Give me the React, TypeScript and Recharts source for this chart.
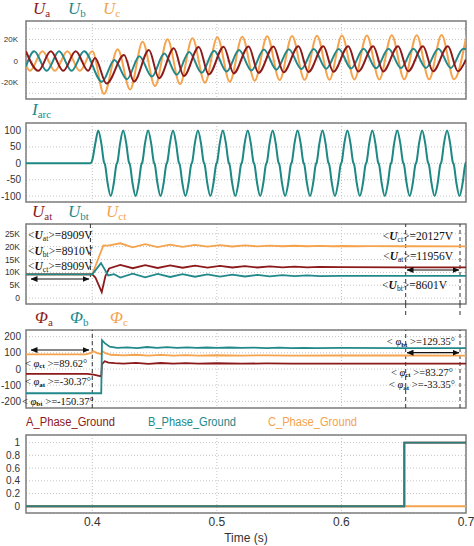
import React from 'react';
import { LineChart, Line, XAxis, YAxis, CartesianGrid, ReferenceArea, ReferenceLine } from 'recharts';

const C_A = '#8C1A1A';
const C_B = '#22898A';
const C_C = '#F5A34C';

const X_MIN = 0.3468;
const X_MAX = 0.7;
const timeTicks = [0.4, 0.5, 0.6, 0.7];

type P = [number, number][];

// Panel 1: phase voltages (extrema)
const uaPts: P = [[0.3468, 9000], [0.3567, -9000], [0.3667, 9000], [0.3767, -9000], [0.3867, 9000], [0.3967, -9000], [0.4022, 2800], [0.4115, -21000], [0.4255, 5600], [0.4335, -19000], [0.4455, 10200], [0.4535, -16000], [0.4655, 11800], [0.4735, -14000], [0.4855, 13000], [0.4935, -12500], [0.5055, 13300], [0.5135, -11500], [0.5255, 13500], [0.5335, -11000], [0.5455, 13600], [0.5535, -10500], [0.5655, 13700], [0.5735, -10200], [0.5855, 13700], [0.5935, -10000], [0.6055, 13700], [0.6135, -9800], [0.6255, 13700], [0.6335, -9700], [0.6455, 13700], [0.6535, -9600], [0.6655, 13700], [0.6735, -9600], [0.6855, 13700], [0.6935, -9600], [0.7, 1500]];
const ubPts: P = [[0.3468, -5000], [0.3534, 9000], [0.3634, -9000], [0.3734, 9000], [0.3834, -9000], [0.3934, 9000], [0.4078, -19200], [0.4178, 900], [0.4278, -17000], [0.4378, 4500], [0.4478, -14500], [0.4578, 7000], [0.4678, -12700], [0.4778, 8500], [0.4878, -11000], [0.4978, 9500], [0.5078, -9800], [0.5178, 10200], [0.5278, -8800], [0.5378, 10600], [0.5478, -8000], [0.5578, 10900], [0.5678, -7500], [0.5778, 11100], [0.5878, -7200], [0.5978, 11200], [0.6078, -7000], [0.6178, 11300], [0.6278, -6800], [0.6378, 11400], [0.6478, -6600], [0.6578, 11400], [0.6678, -6500], [0.6778, 11400], [0.6878, -6500], [0.6978, 11400], [0.7, 11000]];
const ucPts: P = [[0.3468, -4000], [0.35, -9000], [0.36, 9000], [0.37, -9000], [0.38, 9000], [0.39, -9000], [0.4, 9000], [0.4094, -30500], [0.4204, 10900], [0.4304, -26400], [0.4404, 18000], [0.4504, -23300], [0.4604, 20200], [0.4704, -21400], [0.4804, 21100], [0.4904, -20200], [0.5004, 22000], [0.5104, -19200], [0.5204, 22600], [0.5304, -18300], [0.5404, 23000], [0.5504, -17700], [0.5604, 23300], [0.5704, -17500], [0.5804, 23500], [0.5904, -17300], [0.6004, 23700], [0.6104, -17100], [0.6204, 23800], [0.6304, -17100], [0.6404, 24000], [0.6504, -17000], [0.6604, 24000], [0.6704, -17000], [0.6804, 24200], [0.6904, -17000], [0.7004, 24200]];

// Panel 2: arc current
const iarcPts: P = [[0.3468, 0], [0.3985, 0], [0.4, 10], [0.4025, 62],
  [0.4048, 100], [0.4073, 60], [0.4093, 5], [0.4103, -5], [0.4123, -60], [0.4148, -100], [0.4173, -60], [0.4193, -5], [0.4203, 5], [0.4223, 60],
  [0.4248, 100], [0.4273, 60], [0.4293, 5], [0.4303, -5], [0.4323, -60], [0.4348, -100], [0.4373, -60], [0.4393, -5], [0.4403, 5], [0.4423, 60],
  [0.4448, 100], [0.4473, 60], [0.4493, 5], [0.4503, -5], [0.4523, -60], [0.4548, -100], [0.4573, -60], [0.4593, -5], [0.4603, 5], [0.4623, 60],
  [0.4648, 100], [0.4673, 60], [0.4693, 5], [0.4703, -5], [0.4723, -60], [0.4748, -100], [0.4773, -60], [0.4793, -5], [0.4803, 5], [0.4823, 60],
  [0.4848, 100], [0.4873, 60], [0.4893, 5], [0.4903, -5], [0.4923, -60], [0.4948, -100], [0.4973, -60], [0.4993, -5], [0.5003, 5], [0.5023, 60],
  [0.5048, 100], [0.5073, 60], [0.5093, 5], [0.5103, -5], [0.5123, -60], [0.5148, -100], [0.5173, -60], [0.5193, -5], [0.5203, 5], [0.5223, 60],
  [0.5248, 100], [0.5273, 60], [0.5293, 5], [0.5303, -5], [0.5323, -60], [0.5348, -100], [0.5373, -60], [0.5393, -5], [0.5403, 5], [0.5423, 60],
  [0.5448, 100], [0.5473, 60], [0.5493, 5], [0.5503, -5], [0.5523, -60], [0.5548, -100], [0.5573, -60], [0.5593, -5], [0.5603, 5], [0.5623, 60],
  [0.5648, 100], [0.5673, 60], [0.5693, 5], [0.5703, -5], [0.5723, -60], [0.5748, -100], [0.5773, -60], [0.5793, -5], [0.5803, 5], [0.5823, 60],
  [0.5848, 100], [0.5873, 60], [0.5893, 5], [0.5903, -5], [0.5923, -60], [0.5948, -100], [0.5973, -60], [0.5993, -5], [0.6003, 5], [0.6023, 60],
  [0.6048, 100], [0.6073, 60], [0.6093, 5], [0.6103, -5], [0.6123, -60], [0.6148, -100], [0.6173, -60], [0.6193, -5], [0.6203, 5], [0.6223, 60],
  [0.6248, 100], [0.6273, 60], [0.6293, 5], [0.6303, -5], [0.6323, -60], [0.6348, -100], [0.6373, -60], [0.6393, -5], [0.6403, 5], [0.6423, 60],
  [0.6448, 100], [0.6473, 60], [0.6493, 5], [0.6503, -5], [0.6523, -60], [0.6548, -100], [0.6573, -60], [0.6593, -5], [0.6603, 5], [0.6623, 60],
  [0.6648, 100], [0.6673, 60], [0.6693, 5], [0.6703, -5], [0.6723, -60], [0.6748, -100], [0.6773, -60], [0.6793, -5], [0.6803, 5], [0.6823, 60],
  [0.6848, 100], [0.6873, 60], [0.6893, 5], [0.6903, -5], [0.6923, -60], [0.6948, -100], [0.6973, -60], [0.6993, -5], [0.7003, 5]];

// Panel 3: RMS voltages
const uatPts: P = [[0.3468, 9200], [0.4, 9200], [0.4025, 8000], [0.4076, 2300], [0.4105, 8500], [0.4135, 11500], [0.4225, 12900], [0.4325, 11600], [0.4425, 12800], [0.4525, 11700], [0.4625, 12700], [0.4725, 11800], [0.4825, 12600], [0.4925, 11850], [0.5025, 12500], [0.5125, 11900], [0.5225, 12400], [0.5325, 11900], [0.5425, 12300], [0.5525, 11950], [0.5625, 12200], [0.5725, 11950], [0.5825, 12150], [0.6, 12000], [0.65, 11960], [0.7, 11956]];
const ubtPts: P = [[0.3468, 9200], [0.4, 9200], [0.407, 13600], [0.4128, 8800], [0.4175, 9300], [0.4225, 8000], [0.4325, 9500], [0.4425, 8100], [0.4525, 9400], [0.4625, 8200], [0.4725, 9300], [0.4825, 8300], [0.4925, 9200], [0.5025, 8350], [0.5125, 9100], [0.5225, 8400], [0.5325, 9000], [0.5425, 8450], [0.5525, 8900], [0.5625, 8500], [0.5725, 8800], [0.5825, 8550], [0.6, 8650], [0.65, 8600], [0.7, 8601]];
const uctPts: P = [[0.3468, 9200], [0.4, 9200], [0.4089, 20500], [0.4125, 20400], [0.4225, 21300], [0.4325, 19700], [0.4425, 21000], [0.4525, 19800], [0.4625, 20800], [0.4725, 19900], [0.4825, 20700], [0.4925, 20000], [0.5025, 20600], [0.5125, 20050], [0.5225, 20500], [0.5325, 20100], [0.5425, 20400], [0.5525, 20150], [0.5625, 20350], [0.5725, 20150], [0.5825, 20300], [0.5925, 20150], [0.6025, 20250], [0.6125, 20150], [0.6225, 20200], [0.65, 20150], [0.7, 20130]];

// Panel 4: phase angles
const phaPts: P = [[0.3468, -30], [0.396, -30], [0.401, -35], [0.4072, -45], [0.4078, 30], [0.41, 48], [0.413, 40], [0.418, 36], [0.425, 33], [0.435, 38], [0.445, 32], [0.455, 37], [0.465, 33], [0.475, 36], [0.485, 33], [0.5, 35.5], [0.52, 33], [0.54, 34.5], [0.56, 33], [0.6, 33.5], [0.65, 33.3], [0.7, 33.35]];
const phbPts: P = [[0.3468, -150], [0.4072, -150], [0.4078, 178], [0.41, 160], [0.414, 138], [0.42, 130], [0.428, 134], [0.436, 129], [0.444, 136], [0.452, 130], [0.46, 135], [0.468, 130], [0.476, 134], [0.484, 130], [0.492, 133], [0.5, 130], [0.51, 133], [0.52, 130], [0.53, 132], [0.54, 129.5], [0.55, 131.5], [0.56, 129.5], [0.57, 131], [0.58, 129.5], [0.6, 130], [0.65, 129.4], [0.7, 129.35]];
const phcPts: P = [[0.3468, 90], [0.395, 90], [0.399, 100], [0.401, 110], [0.4035, 100], [0.4072, 92], [0.4078, 112], [0.411, 96], [0.415, 88], [0.425, 84], [0.435, 88], [0.445, 83], [0.455, 87], [0.465, 83], [0.475, 86], [0.485, 83], [0.5, 85], [0.52, 83], [0.54, 84.5], [0.56, 83], [0.6, 83.5], [0.65, 83.3], [0.7, 83.27]];

// Panel 5: fault flags
const aFlag: P = [[0.3468, 0], [0.6505, 1], [0.7, 1]];
const bFlag: P = [[0.3468, 0], [0.6505, 1], [0.7, 1]];
const cFlag: P = [[0.3468, 0], [0.7, 0]];

const toPts = (a: P) => a.map(([t, v]) => ({ t, v }));
const kFmt = (v: number) => (v === 0 ? '0' : `${v / 1000}K`);

const SANS = "'Liberation Sans', Arial, sans-serif";
const SERIF = "'Liberation Serif', 'Times New Roman', serif";

type LineSpec = { pts: P; color: string; type?: any; width?: number };

function Panel(props: {
  top: number; bottom: number; domain: [number, number]; ticks: number[]; fmt?: (v: number) => string;
  tickEnd: number; fontSize: number; lines: LineSpec[]; xAxis?: boolean; extra?: React.ReactNode[];
}) {
  const { top, bottom, domain, ticks, fmt, tickEnd, fontSize, lines, xAxis, extra } = props;
  const pad = 4;
  const xh = xAxis ? 24 : 0;
  const h = bottom - top + pad * 2 + xh;
  return (
    <div style={{ position: 'absolute', left: 0, top: top - pad }}>
      <LineChart width={474} height={h} margin={{ top: pad, right: 8, bottom: pad, left: 0 }}>
        <CartesianGrid stroke="#c4c4c4" strokeDasharray="1 2" />
        <XAxis type="number" dataKey="t" domain={[X_MIN, X_MAX]} allowDataOverflow ticks={timeTicks} interval={0}
          hide={!xAxis} height={xh} axisLine={false} tickLine={false} tickSize={0} tickMargin={4}
          tick={{ fontSize: 12, fill: '#333', fontFamily: SANS }} tickFormatter={(v: number) => v.toFixed(1)} />
        <YAxis type="number" domain={domain} allowDataOverflow ticks={ticks} interval={0} tickFormatter={fmt}
          width={26} axisLine={false} tickLine={false} tickSize={0} tickMargin={26 - tickEnd}
          tick={{ fontSize, fill: '#333', fontFamily: SANS }} />
        <ReferenceArea x1={X_MIN} x2={X_MAX} y1={domain[0]} y2={domain[1]} fill="none" stroke="#7d7d7d" strokeWidth={1.5} ifOverflow="visible" />
        {extra}
        {lines.map((l, i) => (
          <Line key={i} data={toPts(l.pts)} dataKey="v" type={l.type || 'linear'} stroke={l.color}
            strokeWidth={l.width || 1.8} dot={false} activeDot={false} isAnimationActive={false} />
        ))}
      </LineChart>
    </div>
  );
}

const dash = { stroke: '#333', strokeDasharray: '4 3', strokeWidth: 1 };

function Title({ x, y, main, sub, color, italicMain = true }: any) {
  return (
    <text x={x} y={y} fill={color} fontFamily={SERIF} fontSize={17} fontStyle={italicMain ? 'italic' : 'normal'}>
      {main}
      <tspan fontStyle="normal" fontSize={11} dy={3}>{sub}</tspan>
    </text>
  );
}

function UAnn({ x, y, sub, val, anchor = 'start' }: any) {
  return (
    <text x={x} y={y} fontFamily={SERIF} fontSize={11.5} fill="#111" textAnchor={anchor}>
      {'<'}<tspan fontStyle="italic" fontWeight="bold">U</tspan>
      <tspan fontSize={7.5} dy={2}>{sub}</tspan>
      <tspan dy={-2}>{`>=${val}V`}</tspan>
    </text>
  );
}

function PhiAnn({ x, y, sub, val, anchor = 'start' }: any) {
  return (
    <text x={x} y={y} fontFamily={SERIF} fontSize={10.5} fill="#111" textAnchor={anchor}>
      {'< '}<tspan fontStyle="italic">φ</tspan>
      <tspan fontSize={7} dy={1.5} fontWeight="bold">{sub}</tspan>
      <tspan dy={-1.5}>{` >=${val}°`}</tspan>
    </text>
  );
}

export default function App() {
  return (
    <div style={{ position: 'relative', width: 474, height: 546, background: '#fff', overflow: 'hidden' }}>
      <style>{'body{margin:0}'}</style>
      <Panel top={21} bottom={99} domain={[-35300, 37200]} ticks={[-30000, -20000, 0, 20000, 30000]}
        fmt={(v) => (Math.abs(v) === 30000 ? '' : kFmt(v))} tickEnd={18} fontSize={8}
        lines={[{ pts: ucPts, color: C_C, type: 'monotone', width: 2 }, { pts: ubPts, color: C_B, type: 'monotone', width: 2 }, { pts: uaPts, color: C_A, type: 'monotone', width: 2 }]} />
      <Panel top={123} bottom={202} domain={[-118, 123]} ticks={[-100, -50, 0, 50, 100]} tickEnd={21} fontSize={10}
        lines={[{ pts: iarcPts, color: '#1E8883', type: 'monotone', width: 2 }]} />
      <Panel top={224} bottom={304} domain={[-2300, 28800]} ticks={[0, 5000, 10000, 15000, 20000, 25000]} fmt={kFmt}
        tickEnd={20} fontSize={8.5}
        extra={[
          <ReferenceLine key="l1" segment={[{ x: 0.3985, y: 28800 }, { x: 0.3985, y: 7500 }]} {...dash} />,
          <ReferenceLine key="r1" x={0.6516} {...dash} />,
          <ReferenceLine key="r2" x={0.6952} {...dash} />,
        ]}
        lines={[{ pts: uctPts, color: C_C }, { pts: uatPts, color: C_A }, { pts: ubtPts, color: C_B }]} />
      <Panel top={330} bottom={408} domain={[-241, 241]} ticks={[-200, -100, 0, 100, 200]} tickEnd={21} fontSize={10}
        extra={[
          <ReferenceLine key="l1" x={0.4} {...dash} />,
          <ReferenceLine key="r1" x={0.6516} {...dash} />,
          <ReferenceLine key="r2" x={0.6952} {...dash} />,
        ]}
        lines={[{ pts: phcPts, color: C_C }, { pts: phaPts, color: C_A }, { pts: phbPts, color: C_B }]} />
      <Panel top={435} bottom={513} domain={[-0.106, 1.12]} ticks={[0, 0.2, 0.4, 0.6, 0.8, 1]}
        fmt={(v) => String(v)} tickEnd={20} fontSize={10} xAxis
        lines={[{ pts: aFlag, color: C_A, type: 'stepAfter' }, { pts: cFlag, color: C_C, type: 'stepAfter', width: 2.2 }, { pts: bFlag, color: '#2A7F7C', type: 'stepAfter' }]} />

      <svg width={474} height={546} style={{ position: 'absolute', left: 0, top: 0, pointerEvents: 'none' }}>
        <defs>
          <marker id="ah" markerWidth="7" markerHeight="6" refX="6.5" refY="3" orient="auto-start-reverse" markerUnits="userSpaceOnUse">
            <path d="M0,0 L7,3 L0,6 z" fill="#111" />
          </marker>
        </defs>
        <Title x={33} y={14} main="U" sub="a" color={C_A} />
        <Title x={68} y={14} main="U" sub="b" color={C_B} />
        <Title x={103} y={14} main="U" sub="c" color={C_C} />
        <Title x={32} y={115} main="I" sub="arc" color={C_B} />
        <Title x={32} y={217} main="U" sub="at" color={C_A} />
        <Title x={68} y={217} main="U" sub="bt" color={C_B} />
        <Title x={106} y={217} main="U" sub="ct" color={C_C} />
        <Title x={35} y={323} main="Φ" sub="a" color={C_A} />
        <Title x={70} y={323} main="Φ" sub="b" color={C_B} />
        <Title x={110} y={323} main="Φ" sub="c" color={C_C} />

        <UAnn x={28} y={239} sub="at" val="8909" />
        <UAnn x={28} y={255} sub="bt" val="8910" />
        <UAnn x={28} y={270} sub="ct" val="8909" />
        <UAnn x={453} y={240} sub="ct" val="20127" anchor="end" />
        <UAnn x={453} y={260} sub="at" val="11956" anchor="end" />
        <UAnn x={447} y={289} sub="bt" val="8601" anchor="end" />
        <line x1={31} y1={279} x2={89} y2={279} stroke="#111" strokeWidth={1.2} markerStart="url(#ah)" markerEnd="url(#ah)" />
        <line x1={407} y1={270} x2={459} y2={270} stroke="#111" strokeWidth={1.2} markerStart="url(#ah)" markerEnd="url(#ah)" />
        <line x1={405.7} y1={304} x2={405.7} y2={318} {...dash} />
        <line x1={460} y1={304} x2={460} y2={318} {...dash} />

        <PhiAnn x={25} y={366.5} sub="ct" val="89.62" />
        <PhiAnn x={25} y={385} sub="at" val="-30.37" />
        <PhiAnn x={22} y={404.5} sub="bt" val="-150.37" />
        <PhiAnn x={455} y={345} sub="bt" val="129.35" anchor="end" />
        <PhiAnn x={453} y={375.5} sub="ct" val="83.27" anchor="end" />
        <PhiAnn x={455} y={388} sub="at" val="-33.35" anchor="end" />
        <line x1={31} y1={350} x2={89} y2={350} stroke="#111" strokeWidth={1.2} markerStart="url(#ah)" markerEnd="url(#ah)" />
        <line x1={407} y1={352.7} x2={459} y2={352.7} stroke="#111" strokeWidth={1.2} markerStart="url(#ah)" markerEnd="url(#ah)" />

        <text x={26} y={426} fill={C_A} fontFamily={SANS} fontSize={12.5} textLength={89} lengthAdjust="spacingAndGlyphs">A_Phase_Ground</text>
        <text x={148} y={426} fill={C_B} fontFamily={SANS} fontSize={12.5} textLength={88} lengthAdjust="spacingAndGlyphs">B_Phase_Ground</text>
        <text x={268} y={426} fill={C_C} fontFamily={SANS} fontSize={12.5} textLength={89} lengthAdjust="spacingAndGlyphs">C_Phase_Ground</text>
        <text x={246} y={542} fill="#333" fontFamily={SANS} fontSize={12} textAnchor="middle">Time (s)</text>
      </svg>
    </div>
  );
}
